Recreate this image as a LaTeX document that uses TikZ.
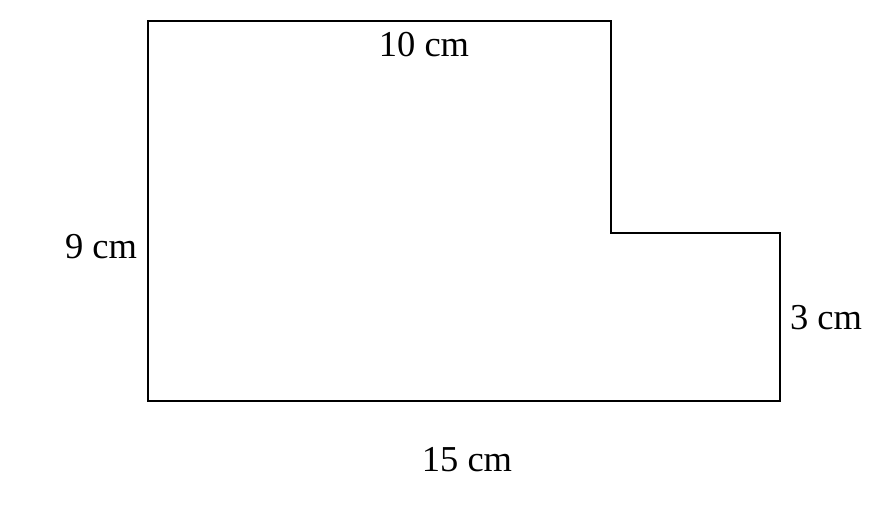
\documentclass[tikz,border=0pt]{standalone}
\usepackage{fontspec}
\setmainfont{Liberation Serif}
\begin{document}
\begin{tikzpicture}[x=1pt,y=-1pt,
  outline/.style={draw=black,line width=2.4pt,line join=miter},
  lbl/.style={font=\fontsize{36.5}{42}\selectfont,inner sep=0pt,anchor=base}]
\useasboundingbox (0,0) rectangle (894,508);
\coordinate (tl) at (148,21);
\coordinate (tr) at (611,21);
\coordinate (in) at (611,233);
\coordinate (mr) at (780,233);
\coordinate (br) at (780,401);
\coordinate (bl) at (148,401);
\draw[outline] (tl) -- (tr) -- (in) -- (mr) -- (br) -- (bl) -- cycle;
\node[lbl] (top) at (424,57) {10 cm};
\node[lbl] (left) at (101,258) {9 cm};
\node[lbl] (right) at (826,329) {3 cm};
\node[lbl] (bottom) at (467,471) {15 cm};
\end{tikzpicture}
\end{document}
